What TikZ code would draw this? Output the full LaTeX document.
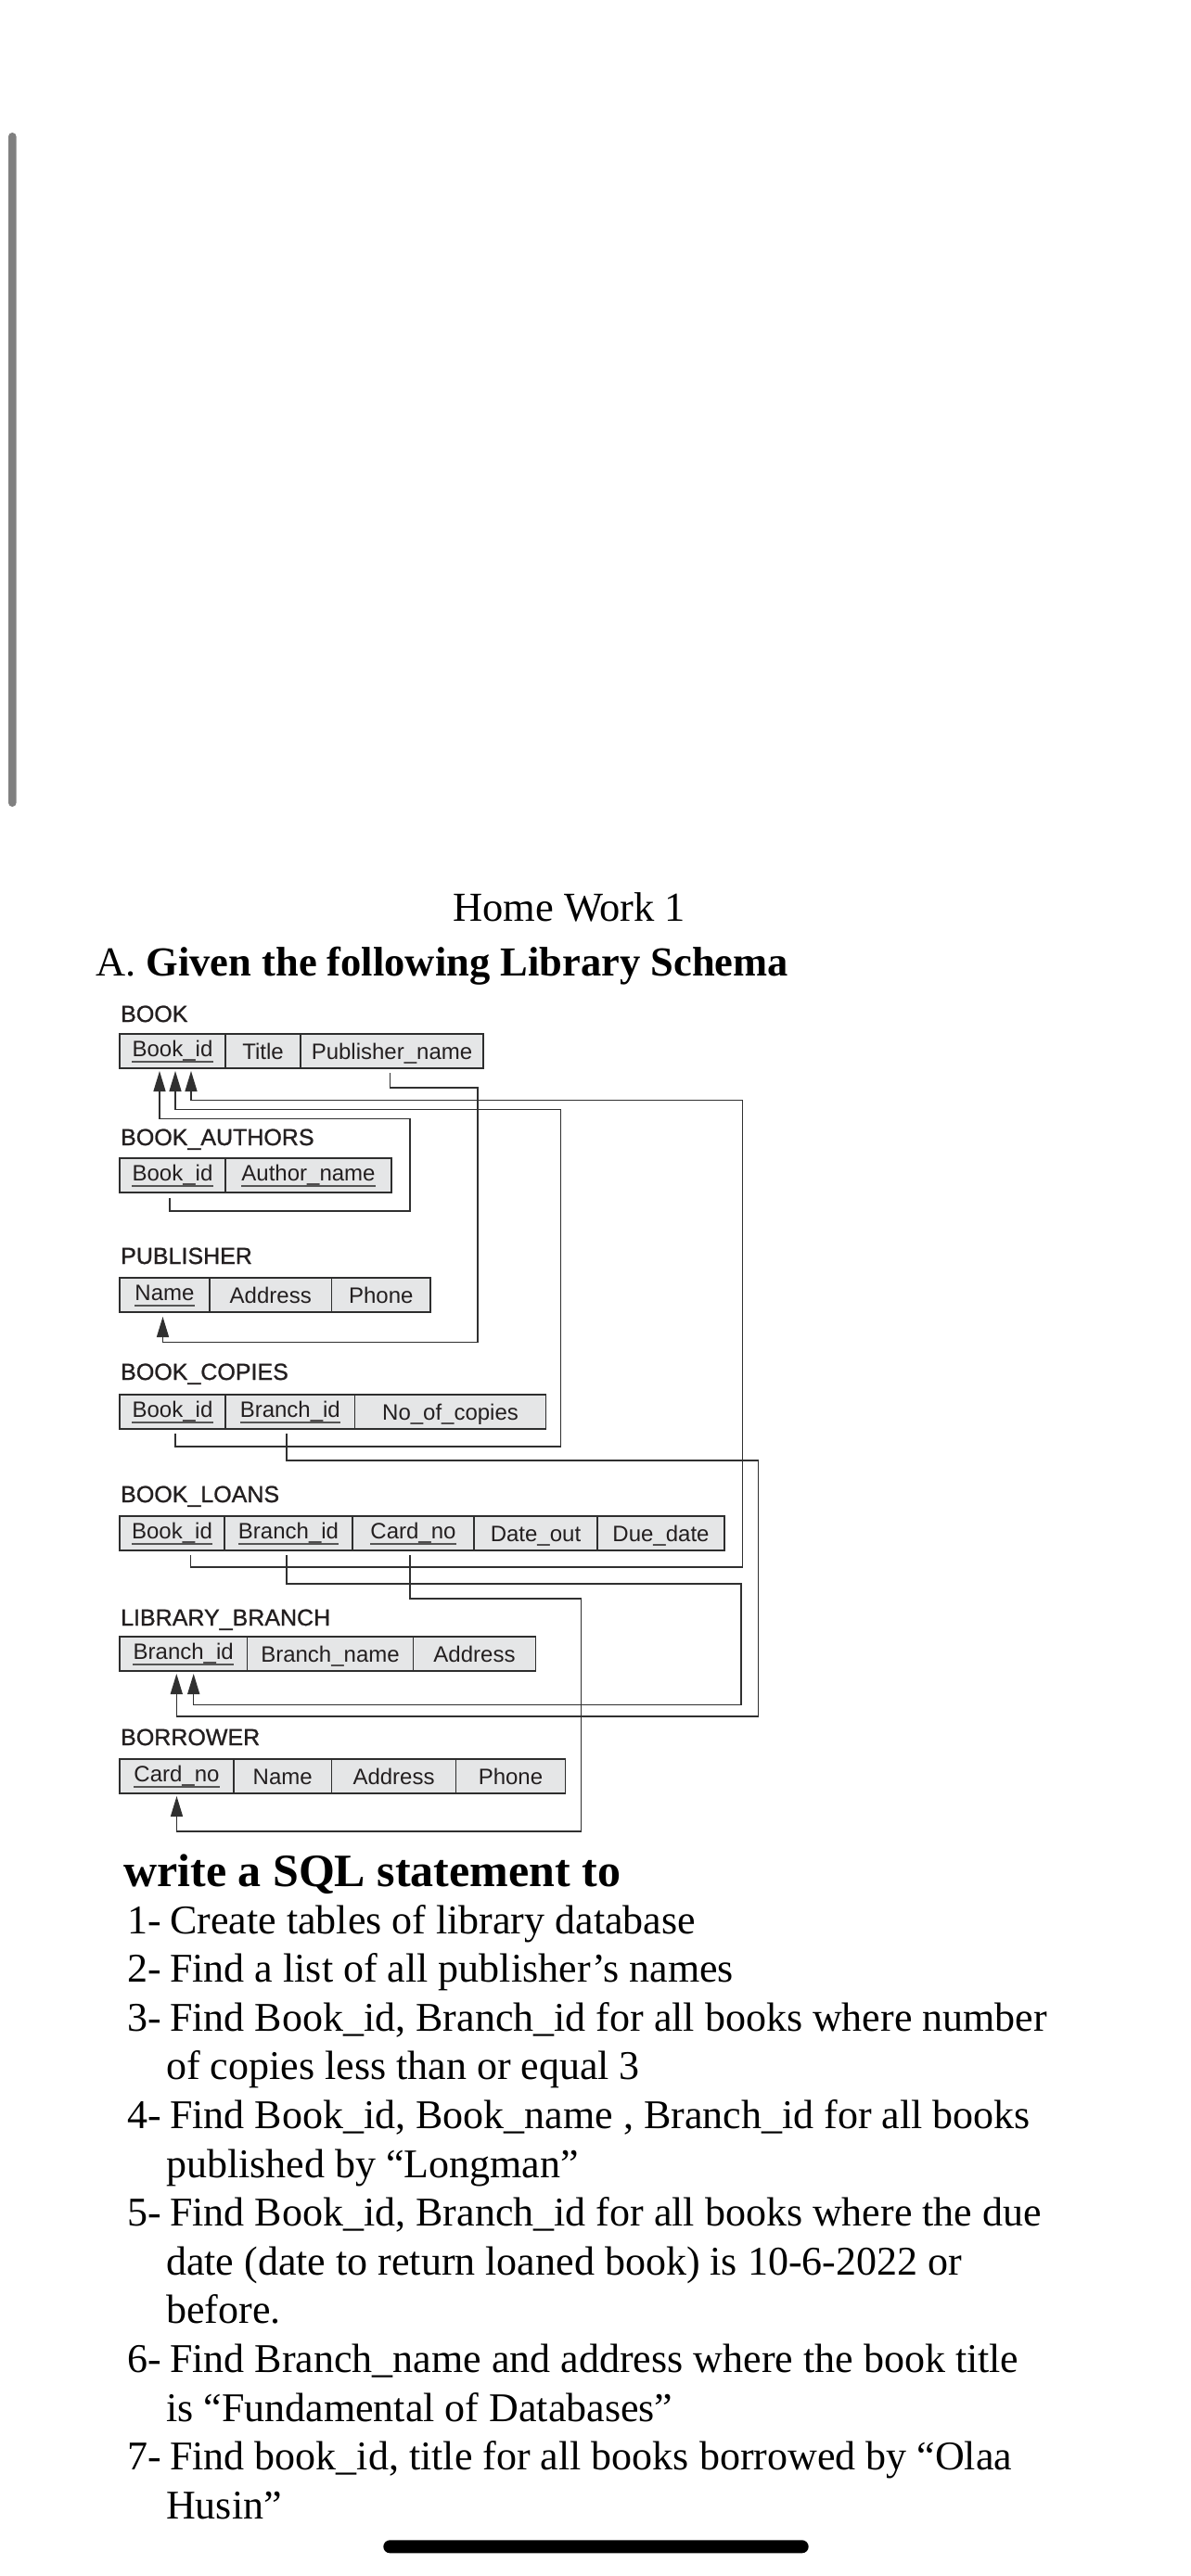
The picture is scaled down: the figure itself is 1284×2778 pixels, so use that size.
\documentclass[tikz,border=0pt]{standalone}
\usepackage{fontspec}
\setmainfont{Liberation Serif}
\newfontfamily\schemafont{Liberation Sans}
\newfontfamily\schemalbl[FakeBold=1]{Liberation Sans}
\usetikzlibrary{arrows.meta}
\definecolor{cellfill}{HTML}{E5E6E7}
\definecolor{tabline}{HTML}{2E2E2E}
\definecolor{conncol}{HTML}{303030}
\definecolor{txtcol}{HTML}{231F20}
\definecolor{ulcol}{HTML}{555555}
\definecolor{scrollgray}{HTML}{808080}
\tikzset{
  cellbox/.style={draw=tabline, fill=cellfill, line width=1.6pt, minimum height=37pt,
    inner sep=0pt, outer sep=0pt, anchor=north west},
  fieldtxt/.style={inner sep=0pt, font=\schemafont\fontsize{24}{28}\selectfont, text=txtcol, anchor=base},
  lbl/.style={inner sep=0pt, font=\schemalbl\fontsize{25}{29}\selectfont, text=txtcol, anchor=base west},
  uline/.style={draw=ulcol, line width=1.4pt},
  conn/.style={draw=conncol, line width=1.5pt},
  arr/.style={conn, -{Triangle[length=22pt,width=13pt]}},
  listtxt/.style={anchor=base west, inner sep=0pt, font=\fontsize{44}{52}\selectfont},
  headtxt/.style={anchor=base west, inner sep=0pt, font=\fontsize{44.5}{53}\selectfont},
}
\newcommand{\kcell}[5]{%
  \node[cellbox, minimum width={#3pt-#2pt}] (#1) at (#2,#4) {};
  \node[fieldtxt] (#1t) at ([yshift=-24pt]#1.north) {#5};
  \draw[uline] ([yshift=-6pt]#1t.base west) -- ([yshift=-6pt]#1t.base east);}
\newcommand{\ncell}[5]{%
  \node[cellbox, minimum width={#3pt-#2pt}] (#1) at (#2,#4) {};
  \node[fieldtxt] (#1t) at ([yshift=-27pt]#1.north) {#5};}
\begin{document}
\begin{tikzpicture}[x=1pt,y=-1pt]
\fill[white] (0,0) rectangle (1284,2778);
\useasboundingbox (0,0) rectangle (1284,2778);
% scroll bar and home indicator
\fill[scrollgray, rounded corners=4.3pt] (9,143) rectangle (17.6,870);
\fill[black, rounded corners=7pt] (413.3,2739.3) rectangle (871.7,2753.3);
% headings
\node[headtxt] (hw) at (488,993) {Home Work 1};
\node[headtxt] (ha) at (103,1052) {A. \textbf{Given the following Library Schema}};
% BOOK
\node[lbl] (lbook) at (130,1102) {BOOK};
\kcell{b1}{129}{243}{1115}{Book\_id}
\ncell{b2}{243}{324}{1115}{Title}
\ncell{b3}{324}{521}{1115}{Publisher\_name}
% BOOK_AUTHORS
\node[lbl] (lba) at (130,1235) {BOOK\_AUTHORS};
\kcell{ba1}{129}{243}{1249}{Book\_id}
\kcell{ba2}{243}{422}{1249}{Author\_name}
% PUBLISHER
\node[lbl] (lpub) at (130,1363) {PUBLISHER};
\kcell{p1}{129}{226}{1378}{Name}
\ncell{p2}{226}{357.5}{1378}{Address}
\ncell{p3}{357.5}{464}{1378}{Phone}
% BOOK_COPIES
\node[lbl] (lbc) at (130,1488) {BOOK\_COPIES};
\kcell{bc1}{129}{243}{1504}{Book\_id}
\kcell{bc2}{243}{382.6}{1504}{Branch\_id}
\ncell{bc3}{382.6}{588.5}{1504}{No\_of\_copies}
% BOOK_LOANS
\node[lbl] (lbl) at (130,1620) {BOOK\_LOANS};
\kcell{bl1}{129}{242}{1635}{Book\_id}
\kcell{bl2}{242}{380}{1635}{Branch\_id}
\kcell{bl3}{380}{511}{1635}{Card\_no}
\ncell{bl4}{511}{644}{1635}{Date\_out}
\ncell{bl5}{644}{781}{1635}{Due\_date}
% LIBRARY_BRANCH
\node[lbl] (llb) at (130,1753) {LIBRARY\_BRANCH};
\kcell{lb1}{129}{266.4}{1765}{Branch\_id}
\ncell{lb2}{266.4}{445.6}{1765}{Branch\_name}
\ncell{lb3}{445.6}{577.4}{1765}{Address}
% BORROWER
\node[lbl] (lbr) at (130,1882) {BORROWER};
\kcell{br1}{129}{252}{1897}{Card\_no}
\ncell{br2}{252}{357.5}{1897}{Name}
\ncell{br3}{357.5}{491.6}{1897}{Address}
\ncell{br4}{491.6}{609.3}{1897}{Phone}
% connectors
\draw[arr] ([xshift=-3pt,yshift=-6pt]ba1.south) -- ++(0,14) -| (442.2,1206.7) -| ([xshift=-14pt,yshift=-3pt]b1.south);
\draw[arr] ([xshift=3pt,yshift=-5pt]bc1.south) -- ++(0,14) -| (604.5,1196.7) -| ([xshift=3pt,yshift=-3pt]b1.south);
\draw[arr] ([xshift=20pt,yshift=-5pt]bl1.south) -- ++(0,13) -| (800.7,1186.7) -| ([xshift=20pt,yshift=-3pt]b1.south);
\draw[arr] ([xshift=-2pt,yshift=-5pt]b3.south) -- ++(0,16) -| (514.9,1447.7) -| ([xshift=-2pt,yshift=-5pt]p1.south);
\draw[arr] ([xshift=-4pt,yshift=-5pt]bc2.south) -- ++(0,29) -| (817.6,1851) -| ([xshift=-7.4pt,yshift=-3pt]lb1.south);
\draw[arr] ([xshift=-2pt,yshift=-5pt]bl2.south) -- ++(0,31) -| (799.2,1838.3) -| ([xshift=11pt,yshift=-3pt]lb1.south);
\draw[arr] ([xshift=-3.3pt,yshift=-5pt]bl3.south) -- ++(0,47) -| (626.3,1975) -| ([yshift=-3pt]br1.south);
% questions
\node[anchor=base west, inner sep=0pt, font=\bfseries\fontsize{50}{58}\selectfont] (ws) at (133,2034) {write a SQL statement to};
\node[listtxt] (n1) at (137,2085) {1-};
\node[listtxt] (q1) at (183,2085) {Create tables of library database};
\node[listtxt] (n2) at (137,2137.6) {2-};
\node[listtxt] (q2) at (183,2137.6) {Find a list of all publisher’s names};
\node[listtxt] (n3) at (137,2190.2) {3-};
\node[listtxt] (q3) at (183,2190.2) {Find Book\_id, Branch\_id for all books where number};
\node[listtxt] (q3b) at (179,2242.8) {of copies less than or equal 3};
\node[listtxt] (n4) at (137,2295.4) {4-};
\node[listtxt] (q4) at (183,2295.4) {Find Book\_id, Book\_name , Branch\_id for all books};
\node[listtxt] (q4b) at (179,2348) {published by “Longman”};
\node[listtxt] (n5) at (137,2400.6) {5-};
\node[listtxt] (q5) at (183,2400.6) {Find Book\_id, Branch\_id for all books where the due};
\node[listtxt] (q5b) at (179,2453.2) {date (date to return loaned book) is 10-6-2022 or};
\node[listtxt] (q5c) at (179,2505.8) {before.};
\node[listtxt] (n6) at (137,2558.4) {6-};
\node[listtxt] (q6) at (183,2558.4) {Find Branch\_name and address where the book title};
\node[listtxt] (q6b) at (179,2611) {is “Fundamental of Databases”};
\node[listtxt] (n7) at (137,2663.6) {7-};
\node[listtxt] (q7) at (183,2663.6) {Find book\_id, title for all books borrowed by “Olaa};
\node[listtxt] (q7b) at (179,2716.2) {Husin”};
\end{tikzpicture}
\end{document}
